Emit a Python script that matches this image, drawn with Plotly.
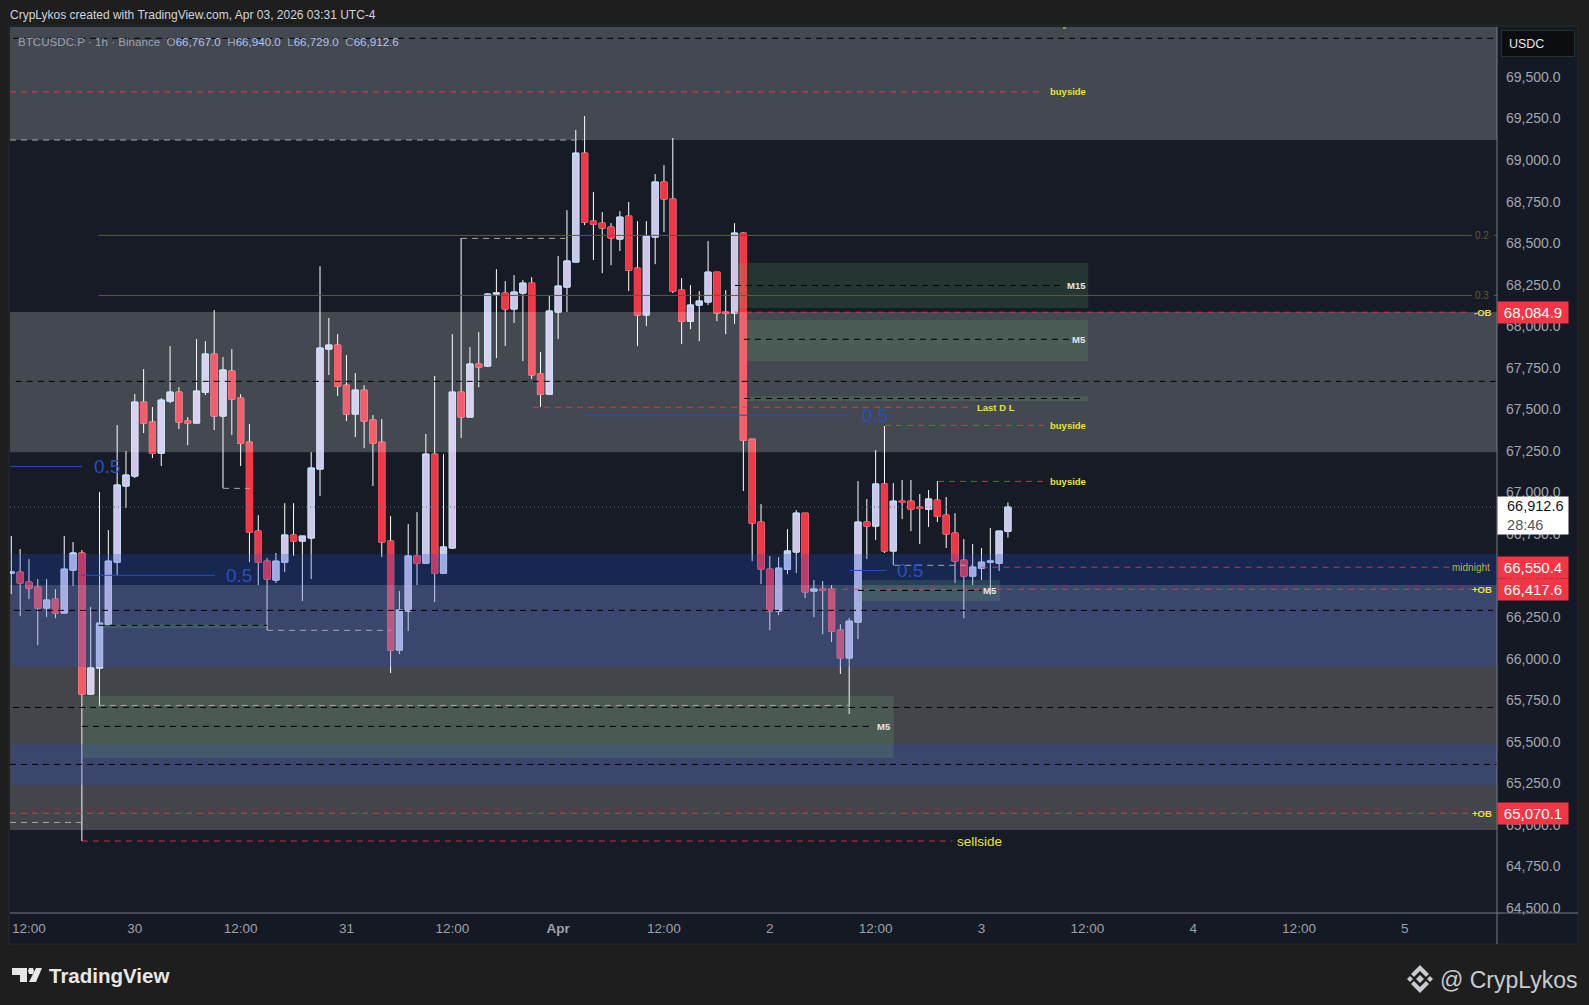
import pandas as pd
import plotly.graph_objects as go

W, H = 1589, 1005
LEFT, RIGHT, TOP, BOTTOM = 10, 1497, 27, 913

first_bar = "2026-03-29 10:00"

open_ = [66515, 66521, 66461, 66431, 66305, 66359, 66275, 66533, 66636, 65787,
         65944, 66208, 66581, 67039, 67099, 67544, 67424, 67237, 67550, 67604,
         67430, 67418, 67604, 67833, 67460, 67731, 67568, 67303, 66768, 66587,
         66473, 66581, 66744, 66708, 66726, 67141, 67863, 67887, 67646, 67472,
         67616, 67436, 67303, 66708, 66052, 66287, 66618, 66575, 67231, 66515,
         66666, 67604, 67454, 67773, 67761, 68194, 68200, 68104, 68200, 68260,
         67713, 67592, 68086, 68236, 68387, 69042, 68633, 68621, 68597, 68525,
         68663, 68350, 68068, 68537, 68868, 68766, 68218, 68031, 68128, 68146,
         68326, 68086, 68080, 68561, 67321, 66822, 66539, 66287, 66539, 66642,
         66876, 66407, 66419, 66419, 66172, 66004, 66220, 66822, 66798, 67051,
         66648, 66948, 66948, 66912, 66900, 66954, 66864, 66756, 66593, 66497,
         66545, 66581, 66575, 66767]
high = [66738, 66660, 66599, 66479, 66479, 66419, 66738, 66702, 66654, 66311,
        67003, 66774, 67406, 67249, 67592, 67743, 67514, 67568, 67881, 67634,
        67454, 67923, 67911, 68098, 67815, 67863, 67592, 67412, 66864, 66605,
        66636, 66936, 66936, 66738, 67243, 68362, 68050, 67953, 67827, 67719,
        67646, 67466, 67442, 66858, 66407, 66810, 66882, 67352, 67701, 67231,
        67953, 68531, 67875, 67965, 68200, 68344, 68272, 68308, 68278, 68296,
        67845, 68182, 68423, 68699, 69181, 69265, 68808, 68687, 68621, 68693,
        68748, 68633, 68633, 68916, 68970, 69133, 68290, 68248, 68212, 68513,
        68326, 68218, 68621, 68567, 67321, 66930, 66618, 66611, 66780, 66894,
        66876, 66473, 66467, 66443, 66208, 66244, 67069, 66961, 67255, 67400,
        67057, 67075, 67075, 66991, 67015, 67069, 66973, 66876, 66720, 66690,
        66666, 66786, 66768, 66940]
low = [66389, 66256, 66359, 66082, 66250, 66244, 66275, 66437, 64903, 65781,
       65721, 66208, 66503, 66906, 67087, 67358, 67207, 67159, 67538, 67382,
       67285, 67418, 67586, 67376, 67027, 67346, 67159, 66581, 66443, 66172,
       66455, 66521, 66618, 66347, 66479, 66979, 67707, 67580, 67430, 67334,
       67267, 67039, 66611, 65914, 66028, 66166, 66443, 66575, 66341, 66515,
       66660, 67328, 67454, 67634, 67755, 67809, 67881, 68020, 67791, 67683,
       67514, 67592, 67923, 68086, 68387, 68609, 68399, 68320, 68368, 68453,
       68212, 67881, 68001, 68374, 68567, 68200, 67893, 67983, 67911, 68128,
       68031, 67953, 68014, 67009, 66587, 66449, 66172, 66262, 66509, 66515,
       66365, 66250, 66148, 66100, 65908, 65667, 66118, 66599, 66714, 66636,
       66563, 66840, 66768, 66690, 66792, 66822, 66666, 66455, 66244, 66443,
       66473, 66383, 66527, 66729]
close = [66521, 66455, 66425, 66305, 66353, 66275, 66539, 66636, 65787, 65944,
         66214, 66587, 67045, 67105, 67544, 67418, 67237, 67556, 67604, 67424,
         67418, 67610, 67833, 67460, 67737, 67562, 67297, 66762, 66581, 66479,
         66587, 66744, 66708, 66738, 67147, 67869, 67887, 67640, 67472, 67616,
         67430, 67297, 66702, 66052, 66293, 66618, 66575, 67231, 66515, 66672,
         67604, 67454, 67773, 67755, 68194, 68200, 68104, 68206, 68260, 67707,
         67592, 68092, 68242, 68393, 69042, 68627, 68615, 68591, 68531, 68657,
         68338, 68068, 68543, 68868, 68766, 68212, 68031, 68128, 68152, 68326,
         68080, 68080, 68561, 67315, 66816, 66539, 66287, 66545, 66648, 66876,
         66401, 66419, 66413, 66166, 66004, 66226, 66822, 66798, 67051, 66648,
         66948, 66942, 66900, 66906, 66961, 66858, 66750, 66587, 66497, 66551,
         66581, 66587, 66768, 66912.6]

# axis ticks
price_ticks = [64500, 64750, 65000, 65250, 65500, 65750, 66000, 66250, 66500, 66750, 67000,
               67250, 67500, 67750, 68000, 68250, 68500, 68750, 69000, 69250, 69500]
time_ticks = ["2026-03-29 12:00", "2026-03-30 00:00", "2026-03-30 12:00", "2026-03-31 00:00",
              "2026-03-31 12:00", "2026-04-01 00:00", "2026-04-01 12:00", "2026-04-02 00:00",
              "2026-04-02 12:00", "2026-04-03 00:00", "2026-04-03 12:00", "2026-04-04 00:00",
              "2026-04-04 12:00", "2026-04-05 00:00"]
time_labels = ["12:00", "30", "12:00", "31", "12:00", "<b>Apr</b>", "12:00", "2",
               "12:00", "3", "12:00", "4", "12:00", "5"]

# zones: price bands, start and end are in bars from first_bar
gray_hi = [69850, 68086]
gray_lo = [69121, 67243]
warm_hi = [66443]
warm_lo = [64969]
blue_hi = [66630, 65486]
blue_lo = [65950, 65240]
green_hi = [65775, 68381, 68038, 67580, 66473, 66208]
green_lo = [65402, 68110, 67791, 67550, 66347, 66184]
green_from = [8.1, 82.3, 83.3, 83.3, 96.1, 9.9]
green_to = [100.05, 122.1, 122.1, 122.1, 112.1, 29]

# drawn levels
black_levels = [69733, 67669, 66291, 65707, 65593, 65364, 66201, 68246, 67922, 67566, 66411]
black_from = [0.2, 0.5, 0.3, 0.2, 8.0, -0.15, 9.9, 82.05, 83.07, 83.07, 96]
black_to = [168.3, 168.3, 168, 168, 97.6, 168.45, 29, 119.3, 120.3, 121.7, 110]
red_levels = [69411, 65070.1, 64903, 66550.4, 66417.6, 68084.9, 67513, 67404, 67067]
red_from = [-0.15, -0.15, 8, 110, 91.7, 82, 59.15, 99.05, 105.07]
red_to = [117.1, 165.7, 106.7, 163.1, 165.6, 165.4, 108.9, 117.1, 117.1]
gray_levels = [69121, 68529, 67025, 66171, 65719, 65015, 66562]
gray_from = [-0.15, 51, 24, 29, 9.9, -0.15, 100.1]
gray_to = [64.8, 62.8, 27.06, 43.05, 95.1, 8, 109]
fib_levels = [68547, 68186, 68547, 68186]
fib_from = [9.9, 9.9, 168.1, 168.1]
fib_to = [165.6, 165.6, 168.45, 168.45]
mid_levels = [67157, 66502, 67465, 66531]
mid_from = [-0.15, 7.9, 64.9, 95]
mid_to = [8, 23.1, 95, 99.2]

last_price = 66912.6
alert_prices = [68084.9, 66550.4, 66417.6, 65070.1]

# small labels on the chart
yellow_text = ["buyside", "buyside", "buyside", "Last D L", "-OB", "+OB", "+OB"]
yellow_bar = [119.8, 119.8, 119.8, 111.6, 166.9, 166.8, 166.8]
yellow_price = [69411, 67404, 67067, 67513, 68084.9, 66417.6, 65070.1]
white_text = ["M15", "M5", "M5", "M5"]
white_bar = [120.8, 121, 99, 111]
white_price = [68246, 67922, 65593, 66411]
half_bar = [10.85, 25.8, 97.9, 101.9]
half_price = [67157, 66502, 67465, 66531]


def at(bar):
    return str(pd.Timestamp(first_bar) + pd.Timedelta(hours=bar))


def px(x):
    return (x - LEFT) / (RIGHT - LEFT)


def py(y):
    return (BOTTOM - y) / (BOTTOM - TOP)


def poly(points):
    return "M " + " L ".join(f"{px(x):.5f} {py(y):.5f}" for x, y in points) + " Z"


times = pd.date_range(first_bar, periods=len(close), freq="h")
body_hi = [max(o, c) for o, c in zip(open_, close)]
body_lo = [min(o, c) for o, c in zip(open_, close)]

fig = go.Figure()
# white wicks first, bodies on top with no wick of their own
fig.add_trace(go.Candlestick(x=times, open=open_, high=high, low=low, close=close,
                             increasing=dict(line=dict(color="#ffffff", width=1), fillcolor="#ffffff"),
                             decreasing=dict(line=dict(color="#ffffff", width=1), fillcolor="#ffffff"),
                             showlegend=False, hoverinfo="skip"))
fig.add_trace(go.Candlestick(x=times, open=open_, high=body_hi, low=body_lo, close=close,
                             increasing=dict(line=dict(color="#bbdefb", width=1), fillcolor="#d1c4e9"),
                             decreasing=dict(line=dict(color="#f23645", width=1), fillcolor="#f23645"),
                             showlegend=False, hoverinfo="skip"))

shapes = []

# pane background outside the plot, and the page furniture
shapes.append(dict(type="rect", xref="paper", yref="paper", x0=px(LEFT - 1), x1=px(1578), y0=py(944), y1=py(26),
                   fillcolor="#141924", line=dict(color="#222c2c", width=1), layer="below"))
shapes.append(dict(type="rect", xref="paper", yref="paper", x0=0, x1=1, y0=0, y1=1,
                   fillcolor="#161b26", line=dict(width=0), layer="below"))

for top, bot in zip(gray_hi, gray_lo):
    shapes.append(dict(type="rect", x0=at(-0.15), x1=at(168.45), y0=bot, y1=top, xref="x", yref="y",
                       fillcolor="rgba(255,255,255,0.2)", line=dict(width=0), layer="above"))
for top, bot in zip(warm_hi, warm_lo):
    shapes.append(dict(type="rect", x0=at(-0.15), x1=at(168.45), y0=bot, y1=top, xref="x", yref="y",
                       fillcolor="rgba(250,240,225,0.2)", line=dict(width=0), layer="above"))
for top, bot in zip(blue_hi, blue_lo):
    shapes.append(dict(type="rect", x0=at(0), x1=at(168.45), y0=bot, y1=top, xref="x", yref="y",
                       fillcolor="rgba(30,75,206,0.25)", line=dict(width=0), layer="above"))
for top, bot, a, b in zip(green_hi, green_lo, green_from, green_to):
    shapes.append(dict(type="rect", x0=at(a), x1=at(b), y0=bot, y1=top, xref="x", yref="y",
                       fillcolor="rgba(110,190,110,0.17)", line=dict(width=0), layer="above"))


def add_levels(levels, starts, ends, color, dash):
    for level, a, b in zip(levels, starts, ends):
        shapes.append(dict(type="line", x0=at(a), x1=at(b), y0=level, y1=level, xref="x", yref="y",
                           line=dict(color=color, width=1, dash=dash), layer="above"))


add_levels(fib_levels, fib_from, fib_to, "#5f5c36", "solid")
add_levels(mid_levels, mid_from, mid_to, "#2450c0", "solid")
add_levels(gray_levels, gray_from, gray_to, "#a6a6a6", "6px,5px")
add_levels(red_levels, red_from, red_to, "rgba(242,54,69,0.85)", "6px,5px")
add_levels(black_levels, black_from, black_to, "#000000", "6px,5px")
add_levels([last_price], [-0.15], [168.45], "#6a6d78", "1px,3px")

# axis frame, runs through to the corner
shapes.append(dict(type="line", xref="paper", yref="paper", x0=px(RIGHT), x1=px(RIGHT), y0=py(944), y1=py(TOP),
                   line=dict(color="#787b86", width=1), layer="above"))
shapes.append(dict(type="line", xref="paper", yref="paper", x0=px(LEFT), x1=px(1578), y0=0, y1=0,
                   line=dict(color="#787b86", width=1), layer="above"))
# tail of a label that sits just above the visible range
shapes.append(dict(type="line", xref="paper", yref="paper", x0=px(1063), x1=px(1066), y0=py(28), y1=py(28),
                   line=dict(color="#e8e23a", width=1), layer="above"))

# tradingview mark
for pts in ([(12, 968), (27, 968), (27, 982), (20, 982), (20, 975), (12, 975)],
            [(36, 968), (42, 968), (36, 982), (29, 982)],
            [(29, 968), (33, 968), (34, 971), (33, 974), (29, 974), (28, 971)]):
    shapes.append(dict(type="path", xref="paper", yref="paper", path=poly(pts),
                       fillcolor="#e8e8e8", line=dict(width=0), layer="above"))
# binance mark
for pts in ([(1420, 965), (1429, 974), (1426, 977), (1420, 971), (1414, 977), (1411, 974)],
            [(1420, 993), (1429, 984), (1426, 981), (1420, 987), (1414, 981), (1411, 984)],
            [(1420, 975), (1424, 979), (1420, 983), (1416, 979)],
            [(1410, 976), (1413, 979), (1410, 982), (1407, 979)],
            [(1430, 976), (1433, 979), (1430, 982), (1427, 979)]):
    shapes.append(dict(type="path", xref="paper", yref="paper", path=poly(pts),
                       fillcolor="#c8cbd0", line=dict(width=0), layer="above"))

FONT = "Liberation Sans"
notes = []


def note(text, x, y, size, color, xref="x", yref="y", xanchor="center", **kw):
    notes.append(dict(text=text, x=x, y=y, xref=xref, yref=yref, xanchor=xanchor, yanchor="middle",
                      showarrow=False, font=dict(family=FONT, size=size, color=color), **kw))


for text, bar, price in zip(yellow_text, yellow_bar, yellow_price):
    note(f"<b>{text}</b>", at(bar), price, 9.5, "#e8e23a")
for text, bar, price in zip(white_text, white_bar, white_price):
    note(f"<b>{text}</b>", at(bar), price, 9.5, "#e6e6e6")
for bar, price in zip(half_bar, half_price):
    note("0.5", at(bar), price, 19, "#2450c0")
note("sellside", at(109.8), 64903, 13.5, "#e8e23a")
note("midnight", at(165.5), 66550.4, 10, "#b8b23c")
note("0.2", at(166.8), 68547, 10, "#5f5c30")
note("0.3", at(166.8), 68186, 10, "#5f5c30")

for price in alert_prices:
    note(f"{price:,.1f}", 1.0, price, 15, "#ffffff", xref="paper", xanchor="left",
         bgcolor="#f23645", width=68, height=19, borderpad=1, align="center")
note('&nbsp;&nbsp;66,912.6<br>&nbsp;&nbsp;<span style="color:#50535e">28:46</span>', 1.0, py(515.3), 14.5, "#131722",
     xref="paper", yref="paper", xanchor="left", bgcolor="#ffffff", width=68, height=35, borderpad=1, align="left")
note("&nbsp;&nbsp;USDC", px(1501), py(43.5), 12.5, "#e6e6e6", xref="paper", yref="paper", xanchor="left",
     bgcolor="#0c0d10", bordercolor="#2a302f", borderwidth=1, width=72, height=25, borderpad=0, align="left")

note("CrypLykos created with TradingView.com, Apr 03, 2026 03:31 UTC-4", px(8), py(15), 12, "#d1d4dc",
     xref="paper", yref="paper", xanchor="left")
value = '<span style="color:#b2c5f0">{}</span>'
note("BTCUSDC.P · 1h · Binance  O" + value.format("66,767.0") + "  H" + value.format("66,940.0")
     + "  L" + value.format("66,729.0") + "  C" + value.format("66,912.6"),
     px(16), py(42), 11.6, "#9ea3ae", xref="paper", yref="paper", xanchor="left")
note("<b>TradingView</b>", px(47), py(975), 20.5, "#e8e8e8", xref="paper", yref="paper", xanchor="left")
note("@ CrypLykos", px(1438), py(980), 23, "#c8cbd0", xref="paper", yref="paper", xanchor="left")

fig.update_layout(
    width=W, height=H,
    margin=dict(l=LEFT, r=W - RIGHT, t=TOP, b=H - BOTTOM, autoexpand=False),
    paper_bgcolor="#1e1e1e", plot_bgcolor="#161b26",
    boxmode="overlay", boxgap=0.3, boxgroupgap=0,
    showlegend=False,
    shapes=shapes, annotations=notes,
    xaxis=dict(range=[at(-0.15), at(168.45)], rangeslider=dict(visible=False), showgrid=False, zeroline=False,
               tickmode="array", tickvals=time_ticks, ticktext=time_labels, ticks="", ticklabelstandoff=5,
               tickfont=dict(family=FONT, size=13.5, color="#9ea1aa")),
    yaxis=dict(range=[64470, 69801], side="right", showgrid=False, zeroline=False,
               tickmode="array", tickvals=price_ticks, ticktext=[f"{p:,.1f}" for p in price_ticks],
               ticks="", ticklabelstandoff=8, tickfont=dict(family=FONT, size=14, color="#a3a6af")),
)

fig.write_html("out.html", config=dict(displayModeBar=False),
               post_script="document.body.style.margin='0';document.body.style.overflow='hidden';")
